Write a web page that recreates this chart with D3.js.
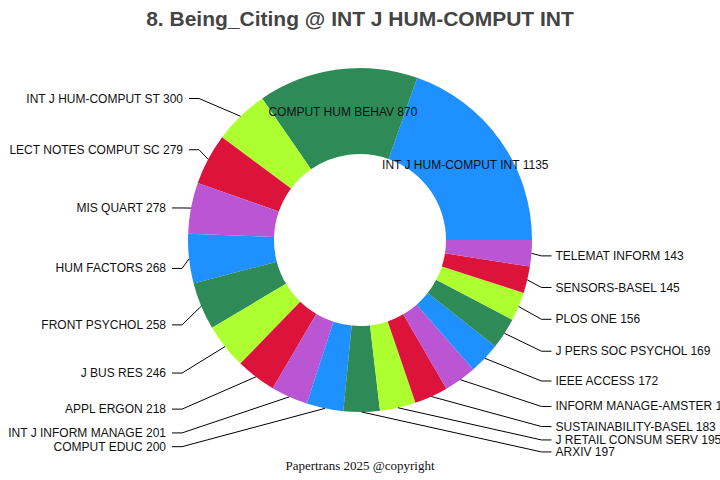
<!DOCTYPE html>
<html>
<head>
<meta charset="utf-8">
<script src="https://cdn.jsdelivr.net/npm/d3@7"></script>
<style>
  body { margin: 0; background: #fff; }
  svg { display: block; }
</style>
</head>
<body>
<svg id="chart"></svg>
<script>
// journals citing INT J HUM-COMPUT INT, largest first
var journals = ["INT J HUM-COMPUT INT", "COMPUT HUM BEHAV", "INT J HUM-COMPUT ST", "LECT NOTES COMPUT SC",
  "MIS QUART", "HUM FACTORS", "FRONT PSYCHOL", "J BUS RES", "APPL ERGON", "INT J INFORM MANAGE",
  "COMPUT EDUC", "ARXIV", "J RETAIL CONSUM SERV", "SUSTAINABILITY-BASEL", "INFORM MANAGE-AMSTER",
  "IEEE ACCESS", "J PERS SOC PSYCHOL", "PLOS ONE", "SENSORS-BASEL", "TELEMAT INFORM"];
var counts = [1135, 870, 300, 279, 278, 268, 258, 246, 218, 201, 200, 197, 195, 183, 177, 172, 169, 156, 145, 143];
var palette = ["#1E90FF", "#2E8B57", "#ADFF2F", "#DC143C", "#BA55D3"];
var title = "8. Being_Citing @ INT J HUM-COMPUT INT";
var footer = "Papertrans 2025 @copyright";

var width = 720, height = 480;
var cx = 360, cy = 240, R = 172, r0 = 86;

var svg = d3.select("#chart")
  .attr("width", width)
  .attr("height", height);

var data = journals.map((j, i) => ({ name: j, value: counts[i], color: palette[i % palette.length] }));
var total = d3.sum(counts);

// ascending clockwise, starting at 3 o'clock
var pie = d3.pie()
  .value(d => d.value)
  .sort((a, b) => a.value - b.value)
  .startAngle(Math.PI / 2)
  .endAngle(Math.PI / 2 + 2 * Math.PI);
var arcs = pie(data);

var arc = d3.arc().innerRadius(r0).outerRadius(R);

var g = svg.append("g").attr("transform", "translate(" + cx + "," + cy + ")");

g.selectAll("path.slice")
  .data(arcs)
  .enter().append("path")
  .attr("class", "slice")
  .attr("d", arc)
  .attr("fill", d => d.data.color);

// big slices: label inside
var inside = arcs.filter(d => d.value / total > 0.1);
var outside = arcs.filter(d => d.value / total <= 0.1);

g.selectAll("text.inner")
  .data(inside)
  .enter().append("text")
  .attr("class", "inner")
  .attr("x", d => arc.centroid(d)[0])
  .attr("y", d => arc.centroid(d)[1])
  .attr("text-anchor", "middle")
  .attr("dominant-baseline", "central")
  .style("font-family", "'Liberation Sans', Arial, sans-serif")
  .style("font-size", "12px")
  .style("fill", "#111")
  .text(d => d.data.name + " " + d.value);

// small slices: label outside with leader lines
var labels = outside.map(d => {
  var mid = (d.startAngle + d.endAngle) / 2;
  var side = Math.sin(mid) >= 0 ? 1 : -1;
  return {
    d: d,
    side: side,
    x1: R * Math.sin(mid),
    y1: -R * Math.cos(mid),
    y: -(R + 33) * Math.cos(mid) + (side < 0 ? 6 : 0)
  };
});

var gap = 12, bottom = height - 28 - cy;
[1, -1].forEach(side => {
  var list = labels.filter(l => l.side === side).sort((a, b) => a.y - b.y);
  for (var i = 1; i < list.length; i++) {
    if (list[i].y < list[i - 1].y + gap) list[i].y = list[i - 1].y + gap;
  }
  if (list.length && list[list.length - 1].y > bottom) {
    list[list.length - 1].y = bottom;
    for (var k = list.length - 2; k >= 0; k--) {
      if (list[k].y > list[k + 1].y - gap) list[k].y = list[k + 1].y - gap;
    }
  }
  var col = side > 0 ? d3.max(list, l => l.x1) + 10 : d3.min(list, l => l.x1) - 7;
  list.forEach(l => {
    l.x2 = col;
    if (side < 0 && l.y < -R * 0.4) l.x2 = col + 17;
    l.x3 = l.x2 + side * 10;
  });
});

g.selectAll("polyline.leader")
  .data(labels)
  .enter().append("polyline")
  .attr("class", "leader")
  .attr("points", l => [[l.x1, l.y1], [l.x2, l.y], [l.x3, l.y]].map(p => p.join(",")).join(" "))
  .attr("fill", "none")
  .attr("stroke", "#000")
  .attr("stroke-width", 1);

g.selectAll("text.outer")
  .data(labels)
  .enter().append("text")
  .attr("class", "outer")
  .attr("x", l => l.x3 + (l.side > 0 ? 4 : -6))
  .attr("y", l => l.y)
  .attr("text-anchor", l => l.side > 0 ? "start" : "end")
  .attr("dominant-baseline", "central")
  .style("font-family", "'Liberation Sans', Arial, sans-serif")
  .style("font-size", "12px")
  .style("fill", "#111")
  .text(l => l.d.data.name + " " + l.d.value);

svg.append("text")
  .attr("x", width / 2)
  .attr("y", 26)
  .attr("text-anchor", "middle")
  .style("font-family", "'Liberation Sans', Arial, sans-serif")
  .style("font-size", "21px")
  .style("font-weight", "bold")
  .style("fill", "#444")
  .text(title);

svg.append("text")
  .attr("x", width / 2)
  .attr("y", 470)
  .attr("text-anchor", "middle")
  .style("font-family", "'Liberation Serif', 'Times New Roman', serif")
  .style("font-size", "13px")
  .style("fill", "#111")
  .text(footer);
</script>
</body>
</html>
